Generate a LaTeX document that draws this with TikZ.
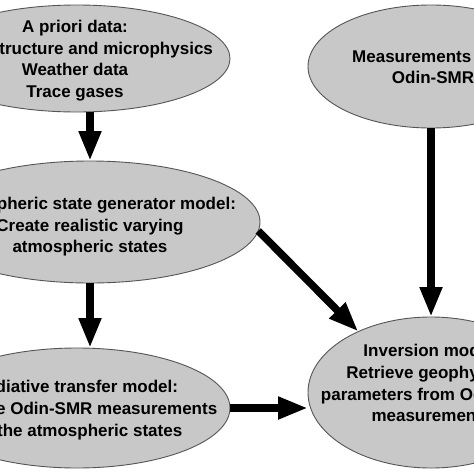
\documentclass[tikz,border=0pt]{standalone}
\usepackage{fontspec}
\setmainfont{Liberation Sans}
\usetikzlibrary{arrows.meta,shapes.geometric}
\definecolor{ellfill}{RGB}{200,200,200}
\definecolor{elledge}{RGB}{85,85,85}
\tikzset{
  ell/.style={ellipse, draw=elledge, line width=0.9pt, fill=ellfill, inner sep=0pt, outer sep=0pt},
  txt/.style={align=center, inner sep=0pt, font=\fontsize{17pt}{21.7pt}\selectfont\bfseries},
  bigarrow/.style={line width=7.5pt, -{Triangle[length=30pt,width=21pt]}}
}
\begin{document}
\begin{tikzpicture}[x=1pt,y=-1pt]
\useasboundingbox (0,0) rectangle (474,474);
\clip (0,0) rectangle (474,474);
\fill[white] (0,0) rectangle (474,474);
% ellipses
\node[ell, minimum width=306pt, minimum height=107pt] (e1) at (77,58.5) {};
\node[ell, minimum width=340pt, minimum height=122pt] (e2) at (90,222) {};
\node[ell, minimum width=306pt, minimum height=120pt] (e3) at (77,408) {};
\node[ell, minimum width=246pt, minimum height=123pt] (e4) at (431,66.5) {};
\node[ell, minimum width=246pt, minimum height=151pt] (e5) at (431,392.5) {};
% texts
\node[txt] (t1) at (75,60.6) {A priori data:\\Cloud structure and microphysics\\Weather data\\Trace gases};
\node[txt] (t2) at (90,226.7) {Atmospheric state generator model:\\Create realistic varying\\atmospheric states};
\node[txt] (t3) at (76,410.2) {Radiative transfer model:\\Simulate Odin-SMR measurements\\for the atmospheric states};
\node[txt] (t4) at (433,66.9) {Measurements from\\Odin-SMR};
\node[txt] (t5) at (431.5,383.3) {Inversion model:\\Retrieve geophysical\\parameters from Odin-SMR\\measurements};
% arrows
\coordinate (a1s) at (e1.south -| e2.north);
\draw[bigarrow] (a1s) -- (e2.north);
\coordinate (a2e) at (e2.south |- e3.north);
\draw[bigarrow] (e2.south) -- (a2e);
\draw[bigarrow] (e4.south) -- (e5.north);
\draw[bigarrow] (e2.-3.4) -- (e5.140.4);
\coordinate (a4e) at (e3.east -| e5.west);
\draw[bigarrow] (e3.east) -- (a4e);
\end{tikzpicture}
\end{document}
